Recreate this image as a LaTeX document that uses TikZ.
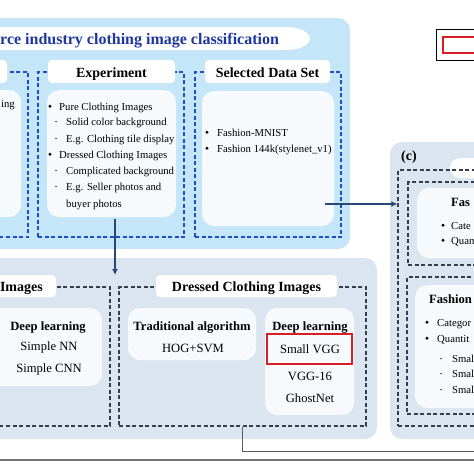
\documentclass[tikz,border=0pt]{standalone}
\usepackage{fontspec}
\setmainfont{Liberation Serif}
\usetikzlibrary{positioning,arrows.meta,fit}
\definecolor{skypanel}{RGB}{197,230,248}
\definecolor{greypanel}{RGB}{219,229,239}
\definecolor{innerw}{RGB}{246,250,253}
\definecolor{dashblue}{RGB}{28,78,200}
\definecolor{dashgrey}{RGB}{52,62,78}
\definecolor{titleblue}{RGB}{30,55,160}
\definecolor{arrownavy}{RGB}{40,70,118}
\definecolor{linkgrey}{RGB}{90,90,90}
\definecolor{markred}{RGB}{215,30,35}
\tikzset{
  skyp/.style={fill=skypanel,rounded corners=12pt},
  greyp/.style={fill=greypanel,rounded corners=12pt},
  bdash/.style={draw=dashblue,line width=1.5pt,dash pattern=on 4pt off 2.5pt,inner sep=0pt},
  gdash/.style={draw=dashgrey,line width=1.3pt,dash pattern=on 4pt off 2.5pt,inner sep=0pt},
  hdr/.style={fill=white,rounded corners=4pt,inner sep=0pt},
  inbox/.style={fill=innerw,rounded corners=12pt,inner sep=0pt},
  hfont/.style={font=\fontsize{14}{16}\selectfont\bfseries,inner sep=0pt},
  lfont/.style={font=\fontsize{10.7}{12}\selectfont,inner sep=0pt},
  mfont/.style={font=\fontsize{12.6}{14}\selectfont,inner sep=0pt},
  bfont/.style={font=\fontsize{12.6}{14}\selectfont\bfseries,inner sep=0pt},
  bul/.style={circle,fill=black,inner sep=0pt,minimum size=3.3pt},
  subdot/.style={circle,fill=black,inner sep=0pt,minimum size=1.5pt},
  flow/.style={-{Latex[length=6pt,width=6pt]},line width=1.6pt,arrownavy},
  link/.style={line width=0.9pt,linkgrey},
}
\begin{document}
\begin{tikzpicture}[x=1pt,y=-1pt]
  \useasboundingbox (0,0) rectangle (474,474);
  \clip (0,0) rectangle (474,474);

  % ---- upper panel ----
  \fill[skyp] (-20,18) rectangle (350,249);
  \fill[white] (-20,27) -- (285,27) .. controls (318,27) and (318,50) .. (285,50) -- (-20,50) -- cycle;
  \node[font=\fontsize{16}{18}\selectfont\bfseries,text=titleblue,inner sep=0pt,anchor=base west] (title) at (0,44) {rce industry clothing image classification};

  % left column (cut)
  \node[bdash,fit={(-20,72) (28,237)}] (leftcol) {};
  \fill[hdr] (-20,60) rectangle (7,83);
  \fill[inbox] (-30,90) rectangle (21,217);
  \node[lfont,anchor=base east] (leftword) at (15,107) {ing};

  % experiment
  \node[bdash,fit={(38,72) (184,237)}] (expcol) {};
  \node[hdr,fit={(48,60) (175,83)}] (exphead) {};
  \node[hfont,anchor=base] (expt) at (exphead.center |- 0,77) {Experiment};
  \node[inbox,fit={(47,90) (176,217)}] (expin) {};
  \foreach \yy/\txt in {110/Pure Clothing Images,158/Dressed Clothing Images}{
    \node[bul] (expb\yy) at (50,\yy-3.8) {};
    \node[lfont,anchor=base west] (expi\yy) at (59,\yy) {\txt};
  }
  \foreach \yy/\txt in {125/Solid color background,142/E.g. Clothing tile display,174/Complicated background,190/E.g. Seller photos and}{
    \node[subdot] (exps\yy) at (56,\yy-3.5) {};
    \node[lfont,anchor=base west] (expt\yy) at (66,\yy) {\txt};
  }
  \node[lfont,anchor=base west] (expt207) at (66,207) {buyer photos};

  % selected data set
  \node[bdash,fit={(195,72) (341,237)}] (dscol) {};
  \node[hdr,fit={(205,60) (330,83)}] (dshead) {};
  \node[hfont,anchor=base] (dst) at (dshead.center |- 0,77) {Selected Data Set};
  \node[inbox,fit={(202,91) (334,226)}] (dsin) {};
  \foreach \yy/\txt in {136/Fashion-MNIST,152/Fashion 144k(stylenet\_v1)}{
    \node[bul] (dsb\yy) at (207,\yy-3.8) {};
    \node[lfont,anchor=base west] (dsi\yy) at (217,\yy) {\txt};
  }

  % ---- lower panel ----
  \fill[greyp] (-20,258) rectangle (377,439);

  % pure images (cut)
  \node[gdash,fit={(-20,287) (110,426)}] (purecol) {};
  \fill[hdr] (-20,275) rectangle (56,297);
  \node[hfont,anchor=base east] (purehead) at (43,291) {Images};
  \node[inbox,fit={(-30,308) (102,386)}] (purein) {};
  \node[bfont,anchor=base] (pdl) at (48,330) {Deep learning};
  \node[mfont,anchor=base] (pnn) at (49,350) {Simple NN};
  \node[mfont,anchor=base] (pcnn) at (49,372) {Simple CNN};

  % dressed images
  \node[gdash,fit={(119,287) (366,426)}] (dcol) {};
  \node[hdr,fit={(156,275) (337,297)}] (dhead) {};
  \node[hfont,anchor=base] (dht) at (dhead.center |- 0,291) {Dressed Clothing Images};
  \node[inbox,fit={(128,308) (256,360)}] (tradin) {};
  \node[bfont,anchor=base] (tradt) at (192,330) {Traditional algorithm};
  \node[mfont,anchor=base] (hog) at (193,352) {HOG+SVM};
  \node[inbox,fit={(265,308) (354,415)}] (deepin) {};
  \node[bfont,anchor=base] (deept) at (310,330) {Deep learning};
  \node[draw=markred,line width=1.8pt,inner sep=0pt,fit={(267,334) (352,364)}] (vggmark) {};
  \node[mfont,anchor=base] (svgg) at (310,353) {Small VGG};
  \node[mfont,anchor=base] (vgg16) at (310,380) {VGG-16};
  \node[mfont,anchor=base] (ghost) at (310,402) {GhostNet};

  % ---- (c) panel ----
  \fill[greyp] (390,142) rectangle (520,439);
  \node[hfont,anchor=base west] (clabel) at (401,160) {(c)};
  \fill[white,rounded corners=10pt] (450,158) rectangle (560,178);
  \node[gdash,fit={(398,170) (520,426)}] (cout) {};
  \node[gdash,fit={(408,182) (520,265)}] (cbox1) {};
  \node[inbox,fit={(417,188) (520,258)}] (cin1) {};
  \node[bfont,anchor=base west] (c1head) at (451,206) {Fas};
  \foreach \yy/\txt in {229/Cate,244/Quan}{
    \node[bul] (c1b\yy) at (443,\yy-3.8) {};
    \node[lfont,anchor=base west] (c1i\yy) at (451,\yy) {\txt};
  }
  \node[gdash,fit={(407,277) (520,414)}] (cbox2) {};
  \node[inbox,fit={(415,285) (520,408)}] (cin2) {};
  \node[bfont,anchor=base west] (c2head) at (429,303) {Fashion};
  \foreach \yy/\txt in {326/Categor,342/Quantit}{
    \node[bul] (c2b\yy) at (427,\yy-3.8) {};
    \node[lfont,anchor=base west] (c2i\yy) at (437,\yy) {\txt};
  }
  \foreach \yy in {362,377,393}{
    \node[subdot] (c2s\yy) at (441,\yy-3.5) {};
    \node[lfont,anchor=base west] (c2t\yy) at (452,\yy) {Smal};
  }

  % legend
  \draw[line width=0.8pt] (436,29) rectangle (500,60);
  \draw[markred,line width=2pt] (443,37) rectangle (500,53);

  % ---- connectors ----
  \coordinate (downstart) at (115,219);
  \coordinate (downend) at (115,275);
  \draw[flow] (downstart) -- (downend);
  \coordinate (dsout) at (325,204);
  \draw[flow] (dsout) -- (dsout -| cout.west);
  \coordinate (linkend) at (480,451);
  \draw[link] (dcol.south) |- (linkend);
  \draw[line width=1.3pt,black!55] (-5,460) -- (480,460);
\end{tikzpicture}
\end{document}
